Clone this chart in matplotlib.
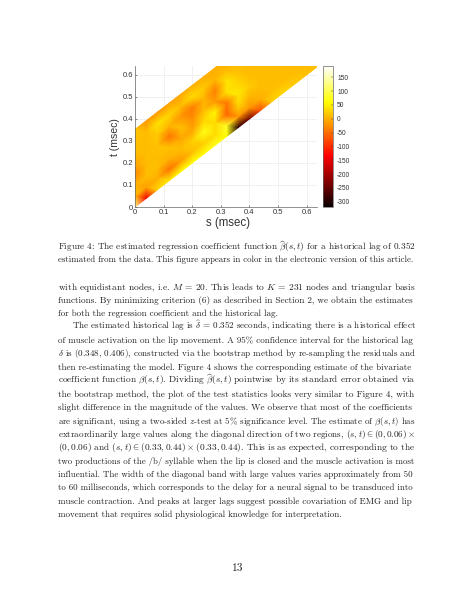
import numpy as np
import matplotlib
matplotlib.use('Agg')
import matplotlib.pyplot as plt
import matplotlib.tri as mtri

W, H = 474, 613
# ---- data ----
s_nodes = [0, .04, .08, .12, .16, .20, .24, .28, .32, .36, .40, .44, .48, .52, .56, .60, .64]
lag_nodes = [0, .05, .10, .15, .20, .25, .30, .352]
beta_lag0 = [130, -140, 30, 45, 60, 65, 65, 75, 65, -300, -240, -70, 25, 30, 20, 15, 15]
beta_lag1 = [10, -10, 0, -45, -15, 10, 25, 35, 80, -20, -20, 0, 12, 12, 10, 10, 10]
beta_lag2 = [0, 12, 10, 0, 10, 25, 70, 35, -60, 30, 5, 10, 10, 10, 8, 8, 8]
beta_lag3 = [-30, 10, 10, 15, -5, -10, 30, 55, -45, 45, 20, 10, 10, 8, 8, 8, 8]
beta_lag4 = [-5, 10, 15, -45, 15, -25, 10, -20, 40, 30, 10, 10, 8, 8, 8, 8, 8]
beta_lag5 = [10, 10, 20, 5, -20, -40, 5, -35, 40, 15, 8, 8, 8, 8, 8, 8, 8]
beta_lag6 = [15, 10, 40, 30, 10, 35, 20, 5, 10, 10, 8, 8, 8, 8, 8, 8, 8]
beta_lag7 = [15, -20, -20, -10, -5, 0, 0, 0, 0, 0, 0, 0, 0, 0, 0, 0, 0]
x_ticks = [0, .1, .2, .3, .4, .5, .6]
y_ticks = [0, .1, .2, .3, .4, .5, .6]
x_tick_labels = ['0', '0.1', '0.2', '0.3', '0.4', '0.5', '0.6']
y_tick_labels = ['0', '0.1', '0.2', '0.3', '0.4', '0.5', '0.6']
cbar_ticks = [150, 100, 50, 0, -50, -100, -150, -200, -250, -300]
x_label = 's (msec)'
y_label = 't (msec)'

caption_lines = [
    r'Figure 4: The estimated regression coefficient function $\widehat{\beta}(s,t)$ for a historical lag of 0.352',
    'estimated from the data. This figure appears in color in the electronic version of this article.',
]
body_lines = [
    r'with equidistant nodes, i.e. $M$ = 20. This leads to $K$ = 231 nodes and triangular basis',
    'functions. By minimizing criterion (6) as described in Section 2, we obtain the estimates',
    'for both the regression coefficient and the historical lag.',
    r'The estimated historical lag is $\widehat{\delta}$ = 0.352 seconds, indicating there is a historical effect',
    'of muscle activation on the lip movement. A 95% confidence interval for the historical lag',
    r'$\delta$ is (0.348, 0.406), constructed via the bootstrap method by re-sampling the residuals and',
    'then re-estimating the model. Figure 4 shows the corresponding estimate of the bivariate',
    r'coefficient function $\beta(s,t)$. Dividing $\widehat{\beta}(s,t)$ pointwise by its standard error obtained via',
    'the bootstrap method, the plot of the test statistics looks very similar to Figure 4, with',
    'slight difference in the magnitude of the values. We observe that most of the coefficients',
    r'are significant, using a two-sided $z$-test at 5% significance level. The estimate of $\beta(s,t)$ has',
    r'extraordinarily large values along the diagonal direction of two regions, $(s,t)\in(0,0.06)\times$',
    r'$(0,0.06)$ and $(s,t)\in(0.33,0.44)\times(0.33,0.44)$. This is as expected, corresponding to the',
    'two productions of the /b/ syllable when the lip is closed and the muscle activation is most',
    'influential. The width of the diagonal band with large values varies approximately from 50',
    'to 60 milliseconds, which corresponds to the delay for a neural signal to be transduced into',
    'muscle contraction. And peaks at larger lags suggest possible covariation of EMG and lip',
    'movement that requires solid physiological knowledge for interpretation.',
]
page_number = '13'

# ---- chart ----
fig = plt.figure(figsize=(W / 100, H / 100), dpi=100, facecolor='white')
def box(l, t, r, b):
    return [l / W, 1 - b / H, (r - l) / W, (b - t) / H]

ax = fig.add_axes(box(135, 66, 317, 207))
beta = np.array([beta_lag0, beta_lag1, beta_lag2, beta_lag3,
                 beta_lag4, beta_lag5, beta_lag6, beta_lag7], float)
S, L = np.meshgrid(s_nodes, lag_nodes)
T = S + L
tri = mtri.Triangulation(S.ravel(), T.ravel())
pc = ax.tripcolor(tri, beta.ravel(), shading='gouraud', cmap='hot', vmin=-319, vmax=191, zorder=2)
ax.set_xlim(0, 0.636)
ax.set_ylim(0, 0.64)
ax.set_xticks(x_ticks, x_tick_labels)
ax.set_yticks(y_ticks, y_tick_labels)
ax.grid(True, color='#ececec', lw=0.5, zorder=0)
ax.set_axisbelow(True)
ax.tick_params(labelsize=5.5, colors='#333333', length=1.5, width=0.4, direction='in', pad=1.5)
for lab in ax.get_xticklabels() + ax.get_yticklabels():
    lab.set_family('Liberation Sans')
for sp in ('top', 'right'):
    ax.spines[sp].set_visible(False)
for sp in ('left', 'bottom'):
    ax.spines[sp].set_color('#666666')
    ax.spines[sp].set_linewidth(0.5)
ax.set_xlabel(x_label, fontsize=8.3, family='Liberation Sans', color='#333333')
ax.set_ylabel(y_label, fontsize=7.6, family='Liberation Sans', color='#333333')
ax.xaxis.set_label_coords((228 - 135) / 182, (207 - 223) / 141, transform=ax.transAxes)
ax.xaxis.label.set_va('center')
ax.yaxis.set_label_coords((115 - 135) / 182, (207 - 137) / 141, transform=ax.transAxes)
ax.yaxis.label.set_va('center')

cax = fig.add_axes(box(323, 66, 333, 207))
cb = fig.colorbar(pc, cax=cax)
cb.set_ticks(cbar_ticks)
cb.ax.set_yticklabels([str(v) for v in cbar_ticks], family='Liberation Sans')
cb.ax.tick_params(labelsize=4.8, colors='#333333', length=1.5, width=0.3, direction='in', pad=3)
cb.outline.set_linewidth(0.5)
cb.outline.set_edgecolor('#666666')

# ---- page text ----
LEFT, RIGHT = 57.7, 415.0
fig.canvas.draw()
renderer = fig.canvas.get_renderer()
def put(line, y, left=LEFT, right=RIGHT, justify=True, size=8.35):
    t = fig.text(left / W, 1 - y / H, line, family='cmr10', fontsize=size, color='#222222',
                 va='baseline', ha='left', math_fontfamily='cm')
    if justify:
        w = t.get_window_extent(renderer).width
        t.set_fontsize(size * (right - left) / w)
    return t

cap_y = [249.5, 262.5]
for line, y in zip(caption_lines, cap_y):
    put(line, y)
body_y = [289.5, 303, 316, 329.5, 343, 356, 369.5, 383, 397, 410, 423.5, 437, 450, 463.5, 477, 490.5, 504, 517]
no_justify_right = {2: 279, 17: 344}
for i, (line, y) in enumerate(zip(body_lines, body_y)):
    left = 71.7 if i == 3 else LEFT
    put(line, y, left=left, right=no_justify_right.get(i, RIGHT))
fig.text(236.5 / W, 1 - 571 / H, page_number, family='cmr10', fontsize=8.35, color='#222222',
         ha='center', va='baseline')

fig.savefig('out.png', dpi=100)
